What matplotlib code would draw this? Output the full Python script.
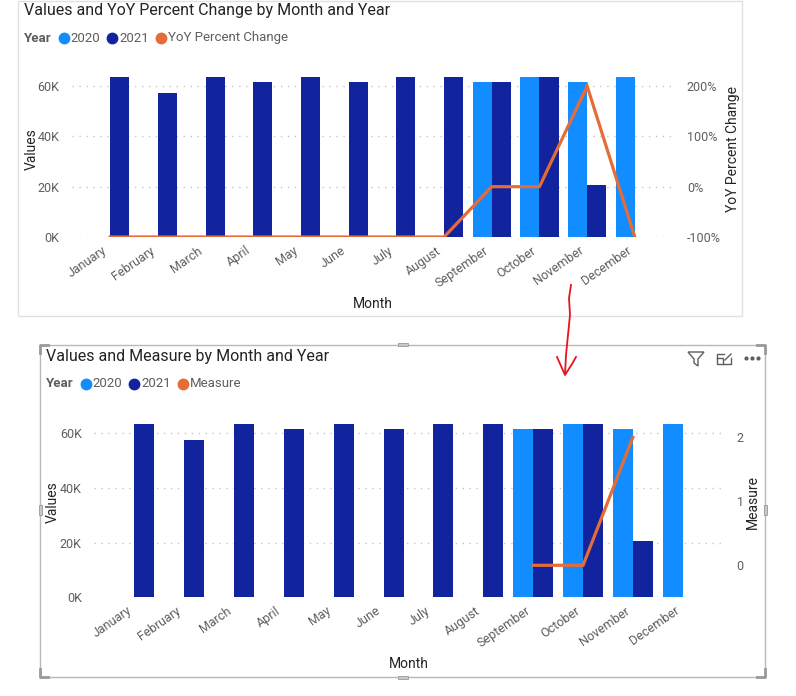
import numpy as np
import matplotlib
matplotlib.use("Agg")
import matplotlib.pyplot as plt
from matplotlib.lines import Line2D
from matplotlib.patches import Rectangle, Polygon
from matplotlib.ticker import FuncFormatter, FixedLocator, NullLocator
import matplotlib.transforms as mtransforms

W, H = 796, 696
nan = np.nan

months = ["January", "February", "March", "April", "May", "June", "July",
          "August", "September", "October", "November", "December"]
values_2020 = [nan, nan, nan, nan, nan, nan, nan, nan, 61440, 63488, 61440, 63488]
values_2021 = [63488, 57344, 63488, 61440, 63488, 61440, 63488, 63488, 61440, 63488, 20480, nan]
yoy_pct_change = [-1, -1, -1, -1, -1, -1, -1, -1, 0, 0, 2, -1]
measure = [nan, nan, nan, nan, nan, nan, nan, nan, 0, 0, 2, nan]
left_ticks = [0, 20000, 40000, 60000]
yoy_ticks = [-1, 0, 1, 2]
measure_ticks = [0, 1, 2]

C2020 = "#118DFF"
C2021 = "#12239E"
CLINE = "#E66C37"
TICKC = "#605E5C"
TXTC = "#252423"
GRIDC = "#C8C6C4"
FONT = ["Roboto", "DejaVu Sans"]

plt.rcParams["font.family"] = FONT

fig = plt.figure(figsize=(W / 100, H / 100), dpi=100)
fig.patch.set_facecolor("white")


def fx(x):
    return x / W


def fy(y):
    return 1 - y / H


def make_chart(l, r, b, t, right_ticks, right_fmt, right_lim, line_vals,
               right_title, title, title_xy, legend_xy, legend_line_label,
               month_xy, left_title_x, right_title_x):
    ax = fig.add_axes([fx(l), fy(b), (r - l) / W, (b - t) / H])
    x = np.arange(len(months))
    bw = 0.4
    ax.bar(x - bw / 2, values_2020, width=bw, color=C2020, zorder=2)
    ax.bar(x + bw / 2, values_2021, width=bw, color=C2021, zorder=2)
    ax.set_xlim(-0.8, 11.8)
    ax.set_ylim(0, 66000)
    ax.yaxis.set_major_locator(FixedLocator(left_ticks))
    ax.yaxis.set_major_formatter(FuncFormatter(lambda v, p: f"{int(v / 1000)}K"))
    ax.grid(axis="y", color=GRIDC, linestyle=(0, (1, 4)), linewidth=1, zorder=0)
    ax.set_axisbelow(True)
    ax.xaxis.set_major_locator(NullLocator())
    tr = ax.get_xaxis_transform() + mtransforms.ScaledTranslation(
        -8 / 100, -7 / 100, fig.dpi_scale_trans)
    for i, m in enumerate(months):
        ax.text(x[i], 0, m, transform=tr, rotation=35, ha="right", va="top",
                rotation_mode="anchor", color=TICKC, fontsize=9, clip_on=False)
    ax.tick_params(axis="y", length=0, pad=9, labelcolor=TICKC, labelsize=9)
    for s in ax.spines.values():
        s.set_visible(False)

    ax2 = ax.twinx()
    ax2.plot(x, line_vals, color=CLINE, linewidth=2.3, solid_joinstyle="miter", zorder=3)
    ax2.set_ylim(*right_lim)
    ax2.yaxis.set_major_locator(FixedLocator(right_ticks))
    ax2.yaxis.set_major_formatter(FuncFormatter(right_fmt))
    ax2.tick_params(axis="y", length=0, pad=10, labelcolor=TICKC, labelsize=9)
    for s in ax2.spines.values():
        s.set_visible(False)

    # axis titles
    fig.text(fx(left_title_x), fy((t + b) / 2 - 5), "Values", rotation=90,
             ha="center", va="center", color=TXTC, fontsize=10)
    fig.text(fx(right_title_x), fy((t + b) / 2 - 5), right_title, rotation=90,
             ha="center", va="center", color=TXTC, fontsize=10)
    fig.text(fx(month_xy[0]), fy(month_xy[1]), "Month", ha="center", va="center",
             color=TXTC, fontsize=10)

    # title
    fig.text(fx(title_xy[0]), fy(title_xy[1]), title, ha="left", va="center",
             color=TXTC, fontsize=11.5)

    # legend chain
    renderer = fig.canvas.get_renderer()
    lx, ly = legend_xy
    tt = fig.text(fx(lx), fy(ly), "Year", ha="left", va="center", color=TICKC,
                  fontsize=9.5, weight="bold")
    xe = tt.get_window_extent(renderer).x1
    for lab, col in [("2020", C2020), ("2021", C2021), (legend_line_label, CLINE)]:
        cx = xe + 12
        fig.add_artist(Line2D([fx(cx)], [fy(ly)], marker="o", markersize=7.5,
                              color=col, transform=fig.transFigure, linestyle="none"))
        tl = fig.text(fx(cx + 7), fy(ly), lab, ha="left", va="center", color=TICKC,
                      fontsize=9.5)
        xe = tl.get_window_extent(renderer).x1
    return ax, ax2


# ---------- top chart ----------
fig.add_artist(Rectangle((fx(18), fy(316)), (742 - 18) / W, (316 - 1) / H,
                         transform=fig.transFigure, fill=False,
                         edgecolor="#E1E1E1", linewidth=1))
make_chart(72, 673, 237, 71, yoy_ticks, lambda v, p: f"{int(round(v * 100))}%",
           (-1, 2.3), yoy_pct_change, "YoY Percent Change",
           "Values and YoY Percent Change by Month and Year", (24, 11), (24, 38),
           "YoY Percent Change", (373, 304), 32, 733)

# ---------- bottom chart ----------
fig.add_artist(Rectangle((fx(40), fy(677)), (765 - 40) / W, (677 - 345) / H,
                         transform=fig.transFigure, fill=False,
                         edgecolor="#B8B8B8", linewidth=1))
# corner handles
hc = "#9A9A9A"
for (cx, cy, dx, dy) in [(40, 345, 1, 1), (765, 345, -1, 1), (40, 677, 1, -1), (765, 677, -1, -1)]:
    fig.add_artist(Line2D([fx(cx), fx(cx), fx(cx + 8 * dx)],
                          [fy(cy + 8 * dy), fy(cy), fy(cy)],
                          transform=fig.transFigure, color=hc, linewidth=2))
for (cx, cy, w, h) in [(40, 510, 3, 10), (765, 510, 3, 10), (403, 345, 10, 3), (403, 677, 10, 3)]:
    fig.add_artist(Rectangle((fx(cx - w / 2), fy(cy + h / 2)), w / W, h / H,
                             transform=fig.transFigure, facecolor="#C8C8C8",
                             edgecolor="#9A9A9A", linewidth=0.6))

make_chart(94.3, 722.7, 597.3, 416.8, measure_ticks, lambda v, p: f"{int(round(v))}",
           (-0.5, 2.32), measure, "Measure",
           "Values and Measure by Month and Year", (46, 356), (46, 383.5),
           "Measure", (409, 664), 53, 753)

# header icons (filter, focus mode, more options)
ic = "#605E5C"
fig.add_artist(Polygon([(fx(688), fy(352)), (fx(704), fy(352)), (fx(698), fy(359)),
                        (fx(698), fy(366)), (fx(694), fy(363)), (fx(694), fy(359))],
                       closed=True, fill=False, edgecolor=ic, linewidth=1,
                       transform=fig.transFigure))
fig.add_artist(Line2D([fx(724), fx(717), fx(717), fx(731), fx(731)],
                      [fy(354), fy(354), fy(364), fy(364), fy(358)],
                      transform=fig.transFigure, color=ic, linewidth=1))
fig.add_artist(Line2D([fx(717), fx(723), fx(723)], [fy(358), fy(358), fy(364)],
                      transform=fig.transFigure, color=ic, linewidth=1))
fig.add_artist(Line2D([fx(725), fx(731)], [fy(360), fy(354)],
                      transform=fig.transFigure, color=ic, linewidth=1))
fig.add_artist(Line2D([fx(746), fx(752), fx(758)], [fy(358)] * 3, marker="o",
                      markersize=2, linestyle="none", color=ic,
                      transform=fig.transFigure))

# hand-drawn red arrow
red = "#E8141A"
ax_pts_x = [571, 569, 570, 568, 566, 565]
ax_pts_y = [285, 298, 315, 335, 355, 374]
fig.add_artist(Line2D([fx(v) for v in ax_pts_x], [fy(v) for v in ax_pts_y],
                      transform=fig.transFigure, color=red, linewidth=1.3))
fig.add_artist(Line2D([fx(557), fx(561), fx(565), fx(572), fx(576)],
                      [fy(357), fy(366), fy(375), fy(364), fy(357)],
                      transform=fig.transFigure, color=red, linewidth=1.3))

fig.savefig("out.png", dpi=100, facecolor="white")
